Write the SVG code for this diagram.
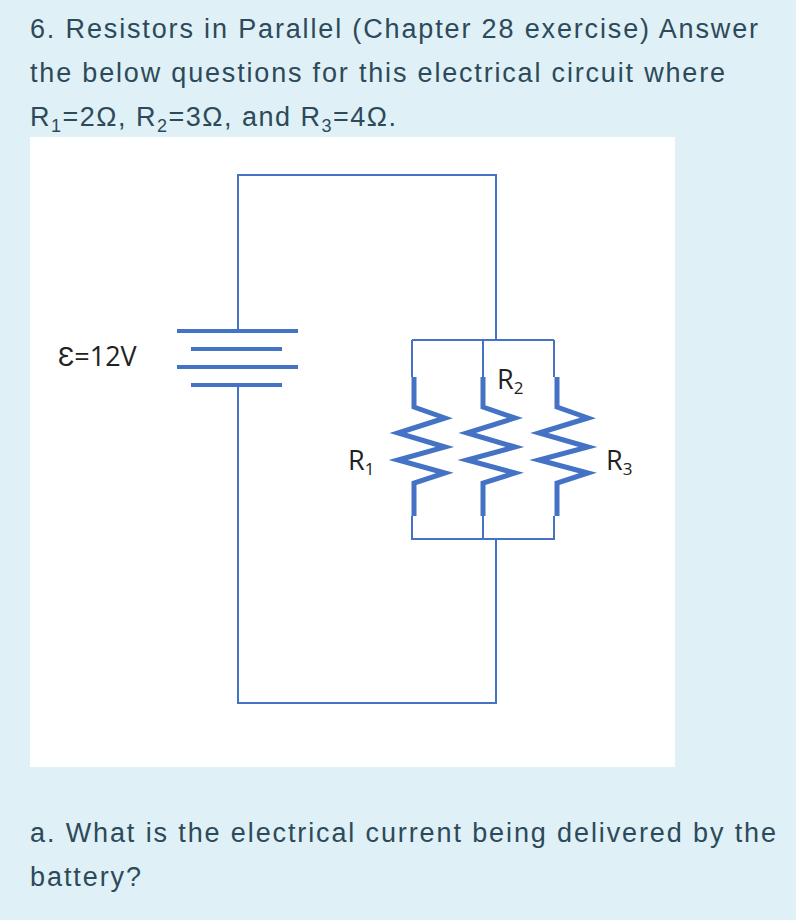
<svg xmlns="http://www.w3.org/2000/svg" width="796" height="920" viewBox="0 0 796 920">
<style>
.t{font-family:"Liberation Sans",Arial,sans-serif;font-size:27px;fill:#2d4a5a}
.c{font-family:"Open Sans","Liberation Sans",sans-serif;font-size:27px;fill:#222}
.w{stroke:#4472c4;stroke-width:2;fill:none}
.b{stroke:#4472c4;stroke-width:4;fill:none}
.z{stroke:#4472c4;stroke-width:5;fill:none;stroke-linejoin:miter}
</style>
<rect width="796" height="920" fill="#dff0f6"/>
<text class="t" x="30" y="38" textLength="728" lengthAdjust="spacing">6. Resistors in Parallel (Chapter 28 exercise)  Answer</text>
<text class="t" x="30" y="82" textLength="695" lengthAdjust="spacing">the below questions for this electrical circuit where</text>
<text class="t" x="30" y="126" font-size="28" letter-spacing="1.5">R<tspan font-size="18" dy="6">1</tspan><tspan dy="-6">=2Ω, R</tspan><tspan font-size="18" dy="6">2</tspan><tspan dy="-6">=3Ω, and R</tspan><tspan font-size="18" dy="6">3</tspan><tspan dy="-6">=4Ω.</tspan></text>
<rect x="30" y="137" width="645" height="630" fill="#fff"/>
<g id="connectors">
<path class="w" d="M238 331 V175 H496 V340 M412 340 H554 M412 340 V377 M483 340 V377 M554 340 V377 M412 516 V539 H554 V516 M483 516 V539 M496 539 V703 H238 V385"/>
</g>
<g id="battery">
<path class="b" d="M177 331 H298 M191 349 H282 M177 367 H298 M191 385 H282"/>
<text class="c" x="58" y="366">Ɛ=12V</text>
</g>
<g id="R1">
<path class="z" d="M414 377 V407 L445 418 L398 433 L445 447 L398 460 L445 473 L414 483 V516"/>
<text class="c" x="348" y="470">R<tspan font-size="17" dy="5">1</tspan></text>
</g>
<g id="R2">
<path class="z" d="M483 377 V407 L515 418 L467 433 L515 447 L467 460 L515 473 L483 483 V516"/>
<text class="c" x="497" y="389">R<tspan font-size="17" dy="5">2</tspan></text>
</g>
<g id="R3">
<path class="z" d="M557 377 V407 L588 418 L539 433 L588 447 L539 460 L588 473 L557 483 V516"/>
<text class="c" x="606" y="470">R<tspan font-size="17" dy="5">3</tspan></text>
</g>
<text class="t" x="30" y="842" textLength="746" lengthAdjust="spacing">a. What is the electrical current being delivered by the</text>
<text class="t" x="30" y="886" textLength="111" lengthAdjust="spacing">battery?</text>
</svg>
